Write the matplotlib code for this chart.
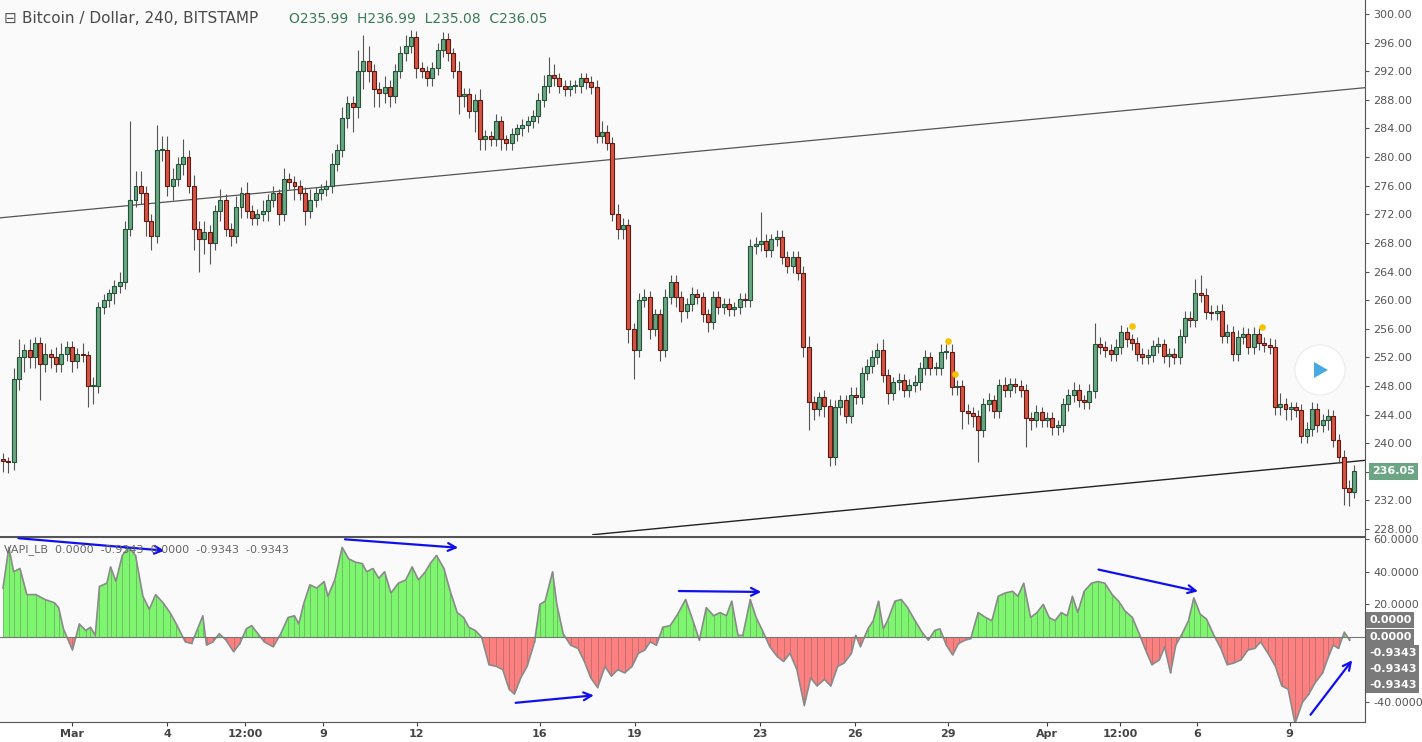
import numpy as np
import matplotlib
matplotlib.use("Agg")
import matplotlib.pyplot as plt
from matplotlib.patches import Ellipse, Polygon

# ---- price data, 4h candles ----
first_open = 237.8
closes = [
    237.5, 237.3, 249.0, 252.0, 253.0, 252.0, 254.0, 251.0, 252.5, 252.0, 251.0, 252.5, 253.5, 251.5, 252.5, 252.3,
    248.0, 248.0, 259.0, 260.0, 261.0, 262.0, 262.5, 270.0, 274.0, 276.0, 275.0, 271.0, 269.0, 281.0, 281.0, 276.0,
    277.0, 279.0, 280.0, 276.0, 270.0, 268.5, 269.5, 268.0, 272.5, 274.0, 270.0, 269.0, 273.0, 275.0, 272.5, 271.5,
    272.0, 272.5, 274.0, 275.0, 272.0, 277.0, 276.5, 276.0, 275.0, 272.5, 274.0, 275.0, 275.5, 276.0, 279.0, 281.0,
    285.5, 287.5, 287.0, 292.0, 293.5, 292.0, 289.5, 289.0, 289.8, 288.5, 292.0, 294.5, 295.5, 296.8, 292.5, 292.0,
    291.0, 292.5, 295.0, 296.5, 294.5, 292.0, 288.5, 288.8, 286.5, 288.0, 282.5, 283.0, 282.5, 285.0, 282.5, 282.0,
    283.2, 284.0, 284.5, 285.0, 285.8, 288.0, 290.0, 291.5, 291.0, 290.0, 289.5, 290.0, 290.0, 291.0, 290.5, 289.8,
    283.0, 283.5, 282.0, 272.0, 270.0, 270.5, 256.0, 253.0, 260.0, 260.5, 256.0, 258.0, 253.0, 260.5, 262.5, 260.5,
    258.5, 259.5, 260.8, 260.4, 258.0, 257.0, 260.5, 259.0, 259.5, 258.8, 259.0, 260.2, 260.0, 267.5, 267.8, 268.3,
    267.0, 268.5, 268.8, 266.0, 264.8, 266.0, 263.8, 253.5, 245.8, 244.8, 246.4, 245.2, 238.0, 245.0, 246.0, 243.8,
    246.8, 246.5, 249.8, 250.8, 252.0, 253.0, 249.5, 247.0, 248.5, 248.8, 247.5, 248.2, 248.5, 250.5, 252.0, 250.5,
    250.5, 252.8, 252.8, 247.8, 248.0, 244.5, 244.2, 243.8, 241.8, 245.5, 246.0, 244.5, 248.2, 247.5, 248.3, 248.0,
    247.5, 243.5, 243.3, 244.3, 243.2, 243.5, 242.2, 242.5, 245.5, 246.8, 247.5, 246.0, 245.8, 247.3, 253.8, 253.5,
    253.0, 252.5, 253.5, 255.5, 254.5, 254.0, 252.5, 252.0, 252.3, 253.6, 253.8, 252.2, 252.5, 252.0, 255.0, 257.5,
    257.2, 261.0, 260.7, 258.3, 258.2, 258.5, 255.0, 255.6, 252.5, 254.8, 255.3, 253.5, 255.3, 254.0, 253.7, 253.5,
    245.0, 245.5, 244.8, 245.0, 244.7, 241.0, 242.0, 244.8, 242.5, 243.3, 243.8, 240.5, 238.0, 233.8, 233.2, 236.05,
]
# wick extension above the body top / below the body bottom, in dollars
wick_hi = [
    0.8, 0.6, 1.5, 2.5, 0.8, 1.5, 0.8, 0.8, 1.5, 0.6, 1.5, 1.5, 0.8, 0.8, 0.8, 1.5,
    0.6, 1.2, 0.8, 0.8, 0.6, 0.8, 1.5, 1.0, 11.0, 2.0, 2.0, 1.0, 1.0, 3.5, 2.0, 2.0,
    1.5, 1.0, 2.5, 1.0, 1.5, 1.0, 1.5, 1.0, 0.8, 1.5, 0.8, 0.8, 1.5, 0.8, 1.5, 0.8,
    0.8, 1.5, 0.8, 1.0, 0.6, 1.5, 0.8, 0.8, 0.8, 0.8, 1.5, 0.8, 0.8, 0.8, 1.5, 0.8,
    1.5, 1.0, 1.0, 3.0, 3.5, 2.0, 1.0, 1.0, 1.5, 1.0, 1.0, 1.0, 1.5, 1.0, 0.8, 0.8,
    0.8, 0.8, 1.0, 1.0, 0.8, 0.8, 1.5, 0.8, 0.8, 0.8, 1.5, 0.8, 0.6, 1.0, 0.8, 0.6,
    0.8, 0.6, 0.8, 0.8, 0.8, 1.0, 1.5, 2.5, 1.5, 0.8, 0.8, 0.8, 0.8, 0.8, 0.8, 0.8,
    1.0, 1.5, 1.0, 0.8, 1.5, 1.0, 0.8, 0.8, 1.0, 1.0, 0.8, 0.8, 0.8, 1.0, 1.0, 1.0,
    0.8, 0.8, 1.0, 0.8, 0.8, 0.8, 0.8, 0.8, 0.8, 0.8, 0.8, 0.8, 0.8, 1.0, 1.0, 4.0,
    1.0, 0.8, 1.0, 1.0, 0.8, 0.8, 0.8, 1.0, 1.5, 0.8, 0.8, 1.0, 1.0, 1.0, 0.8, 0.8,
    1.0, 1.0, 0.8, 1.0, 1.0, 1.0, 1.5, 0.8, 0.8, 1.0, 0.8, 0.8, 1.0, 0.8, 1.0, 0.8,
    0.8, 1.0, 1.0, 1.0, 0.8, 0.8, 1.0, 0.8, 0.8, 0.8, 1.0, 0.8, 0.8, 1.0, 0.8, 0.8,
    0.8, 0.8, 0.8, 1.0, 0.8, 0.8, 0.8, 0.8, 0.8, 0.8, 1.0, 0.8, 0.8, 1.0, 3.0, 1.0,
    0.8, 0.8, 1.0, 1.0, 0.8, 0.8, 0.8, 0.8, 0.8, 0.8, 1.0, 0.8, 0.8, 0.8, 1.0, 1.0,
    1.0, 2.0, 2.5, 1.0, 1.0, 0.8, 1.0, 1.0, 0.8, 1.0, 1.0, 0.8, 1.0, 0.8, 0.8, 1.0,
    1.0, 1.5, 0.8, 0.8, 0.8, 0.8, 1.0, 1.0, 0.8, 0.8, 1.0, 0.8, 0.8, 1.0, 1.0, 0.9,
]
wick_lo = [
    1.5, 1.5, 1.0, 1.5, 2.0, 1.5, 1.5, 5.0, 1.0, 1.5, 1.0, 1.0, 1.0, 1.5, 1.0, 1.0,
    3.0, 2.5, 1.0, 1.0, 1.0, 1.5, 1.0, 1.0, 1.0, 1.0, 1.5, 2.0, 2.0, 1.0, 1.5, 1.5,
    2.0, 1.0, 1.5, 1.0, 3.0, 4.5, 2.0, 3.0, 1.0, 1.5, 1.0, 1.5, 1.0, 1.5, 1.0, 1.0,
    1.0, 1.0, 1.5, 1.0, 1.5, 1.0, 1.0, 2.0, 1.0, 2.0, 1.0, 1.0, 1.0, 1.0, 1.0, 1.0,
    1.0, 1.5, 3.5, 1.5, 2.5, 1.5, 2.5, 2.0, 1.5, 1.5, 1.0, 1.0, 1.0, 1.0, 1.5, 1.0,
    1.0, 1.0, 1.0, 1.0, 1.0, 1.0, 2.5, 1.5, 1.0, 3.0, 1.5, 1.5, 1.0, 1.0, 1.5, 1.0,
    1.0, 1.0, 1.0, 1.0, 1.0, 1.0, 1.0, 1.0, 1.0, 1.0, 1.0, 1.0, 1.0, 1.0, 1.0, 1.0,
    1.0, 1.0, 1.0, 1.0, 1.5, 1.5, 2.0, 4.0, 1.0, 1.0, 1.5, 1.0, 1.5, 1.0, 1.0, 1.5,
    1.5, 1.0, 1.0, 1.0, 1.0, 1.5, 1.0, 1.0, 1.0, 1.0, 1.0, 1.0, 1.0, 1.0, 1.0, 1.0,
    1.0, 1.0, 1.0, 1.0, 1.0, 1.0, 1.0, 1.5, 4.0, 1.5, 1.0, 1.5, 1.2, 1.0, 1.0, 1.0,
    1.0, 1.0, 1.0, 1.0, 1.0, 1.0, 1.0, 1.5, 1.0, 1.0, 1.0, 1.0, 1.0, 1.0, 1.0, 1.0,
    1.0, 1.0, 1.0, 1.0, 1.0, 2.5, 1.5, 1.5, 4.5, 1.0, 1.0, 1.0, 1.0, 1.0, 1.0, 1.0,
    1.0, 4.0, 1.5, 1.0, 1.0, 1.0, 1.0, 1.0, 1.0, 1.0, 1.0, 1.0, 1.0, 1.0, 1.0, 1.0,
    1.0, 1.0, 1.0, 1.0, 1.0, 1.0, 1.0, 1.0, 1.0, 1.0, 1.0, 1.0, 1.5, 1.0, 1.0, 1.0,
    1.0, 1.0, 1.0, 1.0, 1.0, 1.0, 1.0, 1.0, 1.0, 1.0, 1.0, 1.0, 1.0, 1.0, 1.0, 1.0,
    1.0, 1.0, 1.5, 1.5, 1.0, 1.0, 1.0, 1.0, 1.0, 1.0, 1.5, 1.0, 0.8, 2.5, 2.0, 0.9,
]

# trend channel lines: (candle index, price)
upper_line = [(-0.6, 271.5), (257.0, 289.7)]
lower_line = [(111.3, 227.2), (257.0, 237.6)]
# yellow signal dots
dot_idx = [178.3, 179.6, 213.0, 237.5]
dot_px = [254.3, 249.7, 256.4, 256.2]

# ---- VAPI_LB indicator ----
vapi_idx = [0, 1.1, 2.0, 3.2, 4.5, 6.2, 7.9, 9.7, 10.5, 11.4, 13.1, 14.4, 15.6, 16.5, 17.4, 18.2, 19.6, 20.3,
            21.3, 22.5, 23.7, 25.0, 26.4, 27.6, 28.8, 30.2, 31.5, 32.7, 34.4, 35.6, 36.7, 37.7, 38.4, 39.6, 40.8,
            42.1, 43.5, 44.7, 45.9, 46.9, 48.1, 49.3, 51.0, 52.4, 53.8, 55.0, 55.8, 56.7, 57.9, 59.2, 60.6, 61.3,
            62.6, 64.0, 65.2, 66.4, 67.8, 68.6, 69.8, 70.9, 72.0, 73.2, 74.6, 76.0, 77.2, 78.4, 79.7, 80.6, 81.8,
            83.2, 84.4, 85.7, 86.9, 87.9, 89.1, 90.3, 91.7, 93.1, 94.3, 95.5, 96.5, 97.7, 98.9, 100.3, 101.3, 102.3,
            103.7, 104.5, 105.7, 107.1, 108.5, 109.7, 110.9, 112.2, 113.6, 114.8, 116.0, 117.3, 118.7, 119.9, 121.1,
            122.1, 123.3, 124.5, 125.9, 127.3, 128.8, 130.2, 131.4, 132.7, 134.1, 135.3, 136.5, 137.5, 138.7, 139.6,
            141.0, 142.1, 143.3, 144.7, 146.1, 147.3, 148.5, 149.8, 151.2, 152.4, 153.6, 155.0, 156.2, 157.5, 158.7,
            160.1, 160.9, 161.8, 163.2, 164.2, 165.2, 166.1, 166.9, 168.3, 169.5, 170.7, 172.1, 173.4, 174.6, 175.8,
            176.8, 178.0, 179.2, 180.3, 181.5, 182.6, 184.0, 185.4, 186.6, 187.8, 189.1, 190.5, 191.5, 192.6, 193.9,
            195.1, 196.3, 197.4, 198.5, 199.7, 200.8, 201.8, 202.8, 204.0, 205.4, 206.6, 207.9, 209.3, 210.5, 211.7,
            213.1, 214.4, 215.6, 216.8, 218.2, 219.2, 220.3, 221.3, 222.5, 223.7, 224.7, 225.9, 227.1, 228.5, 229.8,
            231.0, 232.2, 233.6, 234.9, 236.2, 237.3, 238.7, 240.1, 241.3, 242.5, 243.8, 245.2, 246.4, 247.6, 249.0,
            250.0, 251.0, 252.0, 253.1, 254.1]
vapi = [30, 55, 40, 42, 26, 26, 23, 21, 18, 5, -8, 8, 4, 6, 1, 31, 33, 43,
        34, 50, 55, 50, 25, 17, 26, 21, 15, 8, -3, -4, 5, 13, -5, -3, 2,
        -2, -9, -4, 5, 7, 2, -3, -6, 2, 12, 13, 8, 20, 32, 30, 34, 25,
        35, 55, 48, 46, 45, 40, 42, 36, 40, 27, 33, 35, 43, 35, 40, 45, 50,
        42, 28, 15, 12, 6, 4, 0, -17, -18, -20, -32, -35, -25, -18, -3, 20, 22,
        40, 20, 2, -5, -7, -15, -25, -31, -18, -24, -20, -22, -18, -10, -8,
        -3, -5, 6, 7, 14, 23, 10, -2, 18, 13, 15, 13, 22, 1, 1,
        23, 12, 4, -6, -12, -15, -10, -20, -42, -25, -30, -26, -30, -18, -16,
        -10, 1, -6, 5, 10, 22, 5, 10, 22, 23, 18, 10, 3, -2, 4,
        5, -5, -11, -4, -2, -1, 15, 12, 10, 25, 27, 28, 25, 33, 12,
        15, 20, 12, 10, 15, 13, 25, 15, 28, 33, 34, 33, 26, 22, 16,
        12, 2, -8, -17, -14, -6, -22, -5, 2, 10, 24, 14, 11, 1, -7,
        -17, -16, -14, -8, -7, -3, -10, -18, -30, -32, -53, -40, -35, -28, -22,
        -13, -5, -7, 3, -2]
vapi_title = "VAPI_LB  0.0000  -0.9343  0.0000  -0.9343  -0.9343"
# hand-drawn blue arrows on the indicator: (start idx, start val, end idx, end val)
arrows = [(2.4, 60.7, 31.0, 52.8), (64.0, 60.0, 86.4, 54.6), (96.2, -40.5, 112.0, -35.6),
          (127.0, 28.2, 143.6, 27.6), (206.2, 41.7, 226.0, 27.6), (246.4, -49.0, 254.9, -12.9)]

tick_idx = [13, 31, 45.7, 60.4, 78.1, 101.3, 119.2, 142.8, 160.8, 178.3, 197, 210.8, 225.3, 242.8]
tick_lbl = ["Mar", "4", "12:00", "9", "12", "16", "19", "23", "26", "29", "Apr", "12:00", "6", "9"]
price_ticks = list(range(228, 301, 4))

UP, UP_E = "#6ba583", "#225437"
DN, DN_E = "#d75442", "#5b1a13"
BG = "#fafafa"

closes = np.array(closes)
opens = np.concatenate([[first_open], closes[:-1]])
idx = np.arange(len(closes))
top = np.maximum(opens, closes)
bot = np.minimum(opens, closes)
highs = top + np.array(wick_hi)
lows = bot - np.array(wick_lo)
up = closes >= opens

fig = plt.figure(figsize=(14.22, 7.42), dpi=100)
fig.patch.set_facecolor("white")
W, H = 1422, 742
ax = fig.add_axes([0, 207 / H, 1365 / W, 535 / H])
axv = fig.add_axes([0, 20 / H, 1365 / W, 185 / H], sharex=ax)
for a in (ax, axv):
    a.set_facecolor(BG)
    for s in ("left", "top", "bottom"):
        a.spines[s].set_visible(False)
    a.spines["right"].set_color("#555555")
    a.yaxis.tick_right()
    a.tick_params(axis="y", labelsize=8, colors="#555555", length=3, pad=3)
axv.spines["top"].set_visible(True)
axv.spines["top"].set_color("#555555")
axv.spines["top"].set_linewidth(1.5)
axv.spines["bottom"].set_visible(True)
axv.spines["bottom"].set_color("#555555")

# candles
ax.vlines(idx, lows, highs, color="#555555", linewidth=0.8, zorder=2)
h = np.maximum(top - bot, 0.08)
ax.bar(idx[up], h[up], bottom=bot[up], width=0.75, color=UP, edgecolor=UP_E, linewidth=0.8, zorder=3)
ax.bar(idx[~up], h[~up], bottom=bot[~up], width=0.75, color=DN, edgecolor=DN_E, linewidth=0.8, zorder=3)

ax.plot(*zip(*upper_line), color="#555555", linewidth=0.9, zorder=1)
ax.plot(*zip(*lower_line), color="#222222", linewidth=1.0, zorder=1)
ax.scatter(dot_idx, dot_px, s=14, color="#f5c400", zorder=4)

ax.set_xlim(-0.57, 257)
ax.set_ylim(227.16, 301.96)
ax.set_yticks(price_ticks)
ax.set_yticklabels([f"{p:.2f}" for p in price_ticks])
plt.setp(ax.get_xticklabels(), visible=False)
ax.tick_params(axis="x", length=0)

ax.text(0.003, 0.965, "\u229f", transform=ax.transAxes, fontsize=11, color="#555555", va="center")
ax.text(0.016, 0.965, "Bitcoin / Dollar, 240, BITSTAMP", transform=ax.transAxes,
        fontsize=11, color="#4a4a4a", va="center")
ax.text(0.212, 0.965, "O235.99  H236.99  L235.08  C236.05", transform=ax.transAxes,
        fontsize=10, color="#3b7a57", va="center")
ax.annotate("236.05", xy=(1.0, closes[-1]), xycoords=("axes fraction", "data"),
            xytext=(5, 0), textcoords="offset points", fontsize=8, color="white", va="center",
            fontweight="bold", bbox=dict(boxstyle="square,pad=0.3", fc=UP, ec="none"),
            annotation_clip=False)

# play button
ax.add_patch(Ellipse((1320 / 1365, 1 - 370 / 535), 50 / 1365, 50 / 535, transform=ax.transAxes,
                     fc="white", ec="#eeeeee", zorder=5))
ax.add_patch(Polygon([(1314 / 1365, 1 - 362 / 535), (1314 / 1365, 1 - 378 / 535), (1328 / 1365, 1 - 370 / 535)],
                     closed=True, transform=ax.transAxes, fc="#4aa8e0", ec="none", zorder=6))

# indicator
vi = np.array(vapi_idx)
vv = np.array(vapi, dtype=float)
axv.fill_between(vi, 0, vv, where=vv >= 0, interpolate=True, color="#7df56e", linewidth=0)
axv.fill_between(vi, 0, vv, where=vv <= 0, interpolate=True, color="#fd8080", linewidth=0)
axv.vlines(vi, 0, vv, color="#555555", linewidth=0.4, alpha=0.6)
axv.plot(vi, vv, color="#8a8a8a", linewidth=1.2)
axv.axhline(0, color="#777777", linewidth=0.8)
for x0, y0, x1, y1 in arrows:
    axv.annotate("", xy=(x1, y1), xytext=(x0, y0),
                 arrowprops=dict(arrowstyle="->", color="#1010ee", lw=1.6, mutation_scale=14))
axv.text(0.003, 0.93, vapi_title, transform=axv.transAxes, fontsize=8, color="#666666", va="center")
axv.set_ylim(-52.1, 61.3)
axv.set_yticks([60, 40, 20, -40])
axv.set_yticklabels(["60.0000", "40.0000", "20.0000", "-40.0000"])
for val, lbl in [(10.4, "0.0000"), (0, "0.0000"), (-9.8, "-0.9343"), (-19.6, "-0.9343"), (-29.4, "-0.9343")]:
    axv.annotate(lbl, xy=(1.0, val), xycoords=("axes fraction", "data"), xytext=(3, 0),
                 textcoords="offset points", fontsize=8, color="white", va="center", fontweight="bold",
                 bbox=dict(boxstyle="square,pad=0.25", fc="#7a7a7a", ec="none"), annotation_clip=False)
axv.set_xticks(tick_idx)
axv.set_xticklabels(tick_lbl)
axv.tick_params(axis="x", labelsize=8, colors="#444444", length=3, pad=2)
for t in axv.get_xticklabels():
    t.set_fontweight("bold")

fig.savefig("out.png", dpi=100, facecolor="white")
